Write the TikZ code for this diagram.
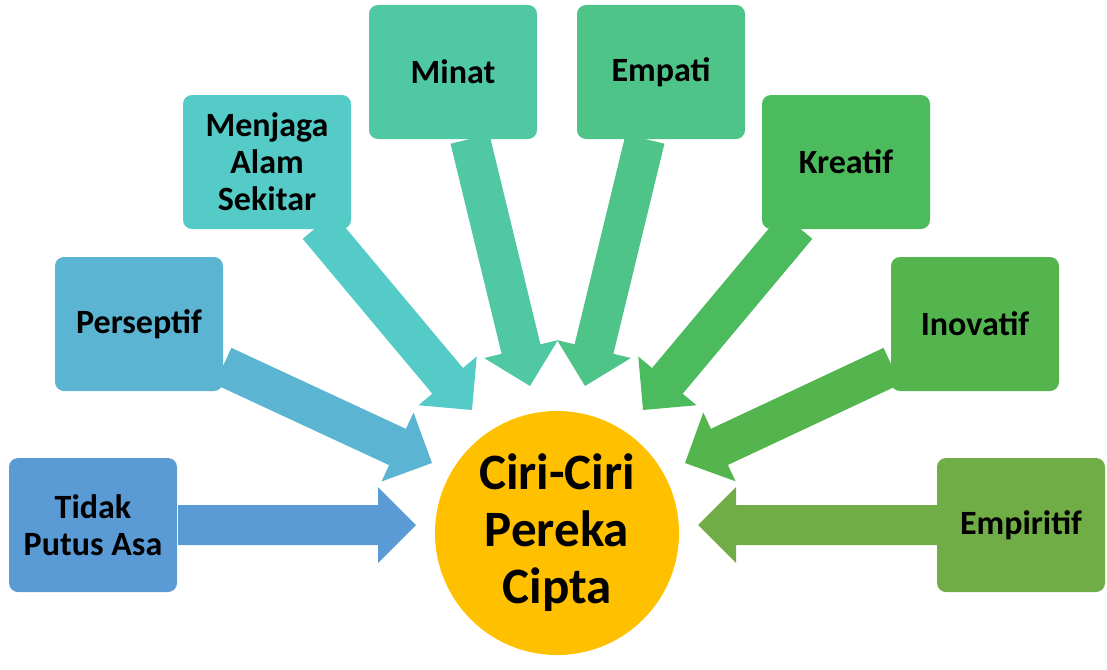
\documentclass[tikz,border=0pt]{standalone}
\usepackage{fontspec}
\setmainfont{Carlito}
\definecolor{c1}{HTML}{5B9BD5}
\definecolor{c2}{HTML}{5AB4D2}
\definecolor{c3}{HTML}{55CBC7}
\definecolor{c4}{HTML}{50C8A4}
\definecolor{c5}{HTML}{4EC488}
\definecolor{c6}{HTML}{4CBB5E}
\definecolor{c7}{HTML}{54B54E}
\definecolor{c8}{HTML}{70AD47}
\definecolor{cc}{HTML}{FFC000}
\newcommand\barrow[5]{%
\pgfmathsetmacro\bang{atan2(-(#4-#2),#3-#1)}%
\pgfmathsetmacro\blen{veclen(#3-#1,#4-#2)}%
\fill[#5,shift={(#1,#2)},rotate=\bang] (0,-20) -- (\blen-38,-20) -- (\blen-38,-38) -- (\blen,0) -- (\blen-38,38) -- (\blen-38,20) -- (0,20) -- cycle;}
\begin{document}
\begin{tikzpicture}[x=1pt,y=-1pt,
 box/.style={rounded corners=9pt,minimum width=168pt,minimum height=134pt,inner sep=0pt,align=center,font=\bfseries\fontsize{34}{37}\selectfont,text=black},
 ]
\useasboundingbox (0,0) rectangle (1107,669);
\barrow{178}{525}{416}{525}{c1}
\barrow{223}{366}{432}{463}{c2}
\barrow{318}{226}{472}{410}{c3}
\barrow{470}{139}{530}{386}{c4}
\barrow{645}{139}{585}{386}{c5}
\barrow{797}{226}{643}{410}{c6}
\barrow{892}{366}{685}{463}{c7}
\barrow{938}{525}{698}{525}{c8}
\node[box,fill=c1] (n1) at (93,525) {Tidak\\Putus Asa};
\node[box,fill=c2] (n2) at (139,324) {Perseptif};
\node[box,fill=c3] (n3) at (267,162) {Menjaga\\Alam\\Sekitar};
\node[box,fill=c4] (n4) at (453,72) {Minat};
\node[box,fill=c5] (n5) at (661,72) {Empati};
\node[box,fill=c6] (n6) at (846,162) {Kreatif};
\node[box,fill=c7] (n7) at (975,324) {Inovatif};
\node[box,fill=c8] (n8) at (1021,525) {Empiritif};
\node[circle,fill=cc,minimum size=244pt,inner sep=0pt,align=center,font=\bfseries\fontsize{51}{57}\selectfont] (c) at (557,533) {Ciri-Ciri\\Pereka\\Cipta};
\end{tikzpicture}
\end{document}
